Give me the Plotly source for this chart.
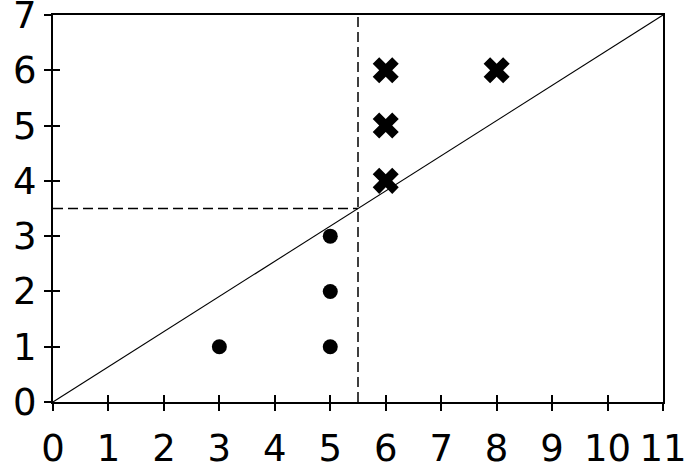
import plotly.graph_objects as go

circle_x = [3, 5, 5, 5]
circle_y = [1, 1, 2, 3]
cross_x = [6, 6, 6, 8]
cross_y = [4, 5, 6, 6]
line_x = [0, 11]
line_y = [0, 7]
split_x = 5.5
split_y = 3.5
x_ticks = list(range(0, 12))
y_ticks = list(range(0, 8))

fig = go.Figure()
fig.add_trace(go.Scatter(x=line_x, y=line_y, mode="lines",
                         line=dict(color="black", width=1.1), showlegend=False))
fig.add_trace(go.Scatter(x=[split_x, split_x], y=[0, 7], mode="lines",
                         line=dict(color="black", width=1.5, dash="10px,5px"), showlegend=False))
fig.add_trace(go.Scatter(x=[0, split_x], y=[split_y, split_y], mode="lines",
                         line=dict(color="black", width=1.5, dash="10px,5px"), showlegend=False))
fig.add_trace(go.Scatter(x=circle_x, y=circle_y, mode="markers",
                         marker=dict(symbol="circle", size=15, color="black"), showlegend=False))
fig.add_trace(go.Scatter(x=cross_x, y=cross_y, mode="markers",
                         marker=dict(symbol="x", size=23, color="black"), showlegend=False))
fig.add_trace(go.Scatter(x=[0], y=[0], xaxis="x2", yaxis="y2", mode="markers",
                         marker=dict(opacity=0), showlegend=False, hoverinfo="skip"))

font = dict(family="DejaVu Sans", size=37, color="black")
common = dict(showgrid=False, zeroline=False, showline=True, linecolor="black",
              linewidth=2, mirror=True, tickcolor="black", tickwidth=2, ticklen=7,
              tickfont=font, automargin=False, ticklabeloverflow="allow")
fig.update_layout(
    width=685, height=463,
    margin=dict(l=53, r=22, t=15, b=61),
    plot_bgcolor="white", paper_bgcolor="white",
    xaxis=dict(range=[0, 11], tickvals=x_ticks, ticks="outside", ticklabelstandoff=6, **common),
    yaxis=dict(range=[0, 7], tickvals=y_ticks, ticks="outside", **common),
    xaxis2=dict(range=[0, 11], tickvals=x_ticks, ticks="inside", overlaying="x",
                showticklabels=False, showgrid=False, zeroline=False, showline=False,
                tickcolor="black", tickwidth=2, ticklen=7),
    yaxis2=dict(range=[0, 7], tickvals=y_ticks, ticks="inside", overlaying="y",
                showticklabels=False, showgrid=False, zeroline=False, showline=False,
                tickcolor="black", tickwidth=2, ticklen=7),
)
fig.write_html("out.html", config={"displayModeBar": False},
               post_script="document.body.style.margin='0';document.body.style.overflow='hidden';")
